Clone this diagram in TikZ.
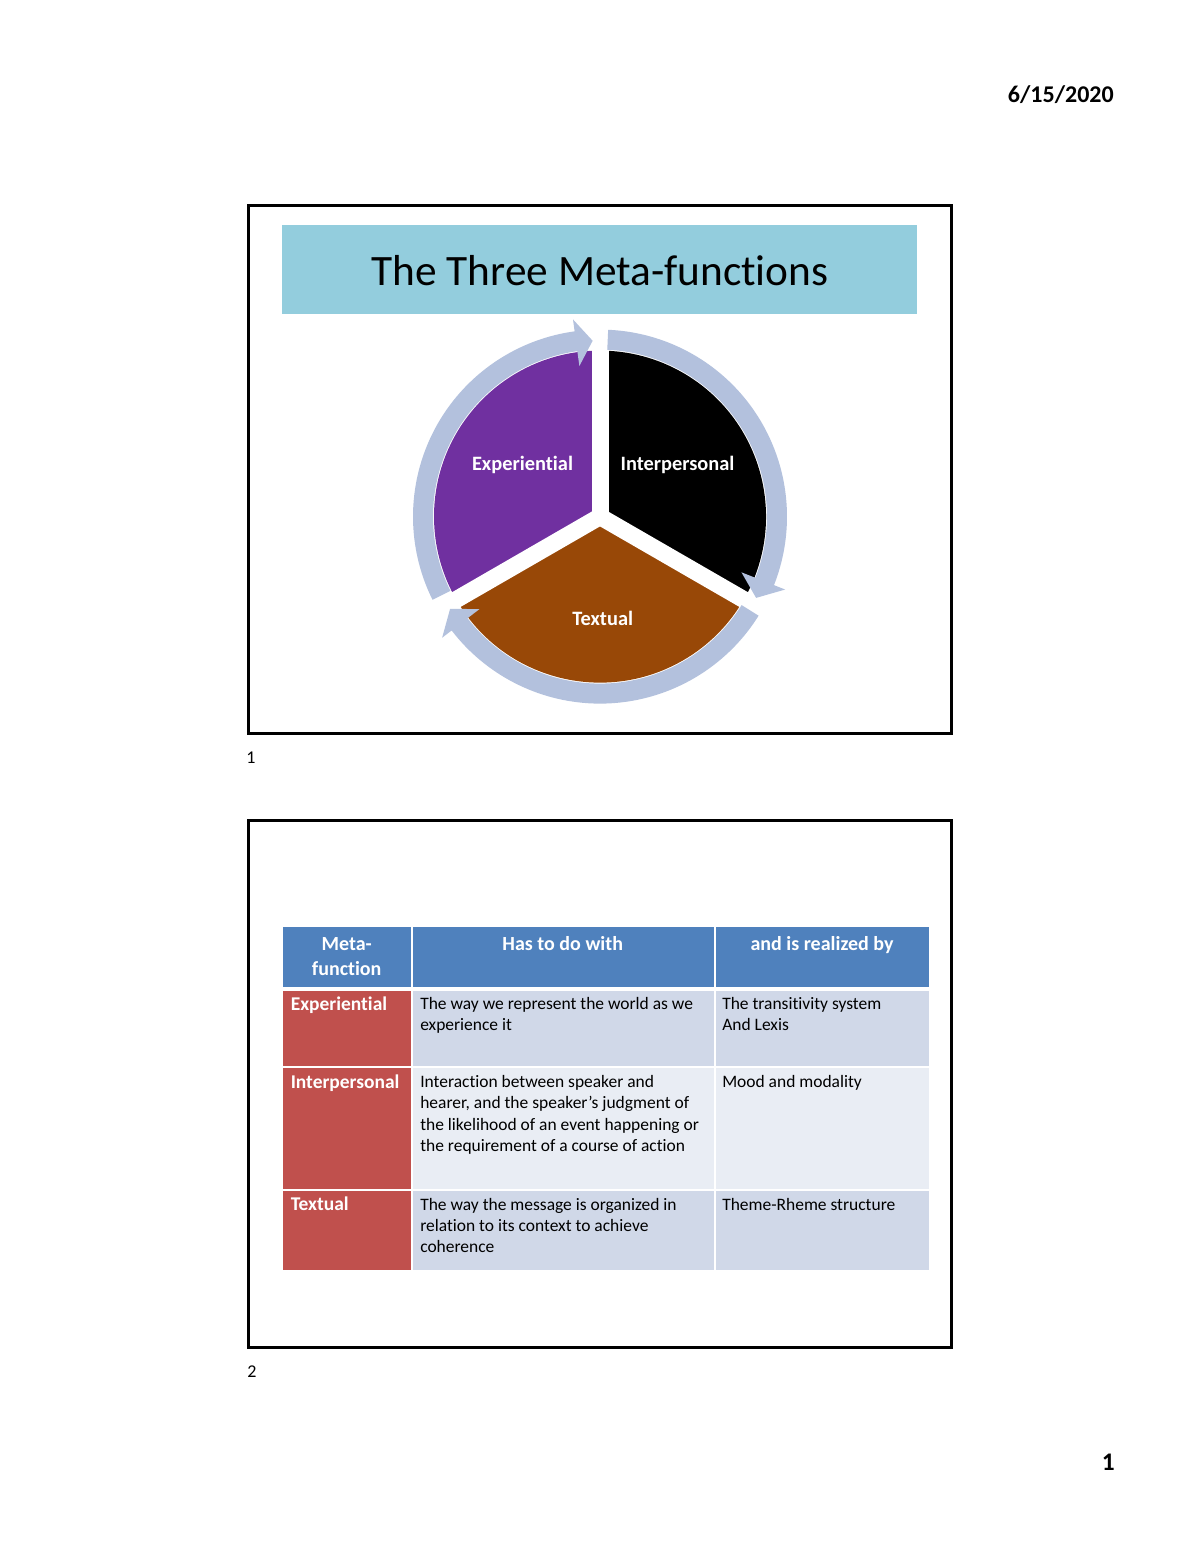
\documentclass[tikz,border=0pt]{standalone}
\usepackage{fontspec}
\setmainfont{Carlito}[Ligatures=NoCommon]
\definecolor{purpleC}{HTML}{7030A0}
\definecolor{brownC}{HTML}{984807}
\definecolor{ringC}{HTML}{B3C1DD}
\definecolor{titleC}{HTML}{93CDDD}
\definecolor{headC}{HTML}{4F81BD}
\definecolor{redC}{HTML}{C0504D}
\definecolor{cellA}{HTML}{D0D8E8}
\definecolor{cellB}{HTML}{E9EDF4}
\newcommand\fs[1]{\fontsize{#1pt}{#1pt}\selectfont}
\newcommand\ringarrow[3]{\fill[ringC] (#1:187) arc[start angle=#1,end angle=#2,radius=187] -- (#2:199) -- (#3:176) -- (#2:152) -- (#2:167) arc[start angle=#2,end angle=#1,radius=167] -- cycle;}
\begin{document}
\begin{tikzpicture}[x=0.75pt,y=-0.75pt,
  slidebox/.style={draw=black,line width=2.25pt},
  seglabel/.style={anchor=base,inner sep=0,text=white,font=\fs{15.3}\bfseries},
  headt/.style={anchor=base,inner sep=0,text=white,font=\fs{15}\bfseries},
  firstt/.style={anchor=base west,inner sep=0,text=white,font=\fs{14.6}\bfseries},
  cellt/.style={anchor=base west,inner sep=0,text=black,font=\fs{13.1}},
  plain/.style={inner sep=0,text=black}]
\useasboundingbox (0,0) rectangle (1200,1553);
\fill[white] (0,0) rectangle (1200,1553);
% page header/footer
\node[plain,anchor=base east,font=\fs{18}\bfseries] (date) at (1114,102) {6/15/2020};
\node[plain,anchor=base east,font=\fs{19}\bfseries] (pagenum) at (1115,1470) {1};
% slide 1
\draw[slidebox] (248.3,205.7) rectangle (951,733);
\node[plain,anchor=base west,font=\fs{13.5}] (num1) at (246,763) {1};
\fill[titleC] (282,225) rectangle (917,314);
\node[plain,anchor=base,font=\fs{32.5}] (title) at (600,285.5) {The Three Meta-functions};
\begin{scope}[shift={(600,516.6)},yscale=-1]
  \fill[purpleC] (0,0) -- (90:166) arc[start angle=90,end angle=210,radius=166] -- cycle;
  \fill[black] (0,0) -- (-30:166) arc[start angle=-30,end angle=90,radius=166] -- cycle;
  \fill[brownC] (0,0) -- (210:166) arc[start angle=210,end angle=330,radius=166] -- cycle;
  \draw[white,line width=12.75pt] (0,0) -- (90:172);
  \draw[white,line width=12.75pt] (0,0) -- (210:172);
  \draw[white,line width=12.75pt] (0,0) -- (330:172);
  \ringarrow{206.4}{97.8}{92.4}
  \ringarrow{87.5}{-21.5}{-27.5}
  \ringarrow{-32}{-142.5}{-148.4}
\end{scope}
\node[seglabel] (exp) at (522.5,470) {Experiential};
\node[seglabel] (inter) at (677.5,470) {Interpersonal};
\node[seglabel] (text) at (602.7,625) {Textual};
% slide 2
\draw[slidebox] (248.3,820) rectangle (951,1347);
\node[plain,anchor=base west,font=\fs{13.5}] (num2) at (247,1377) {2};
\fill[headC] (283,927) rectangle (411,987);
\fill[headC] (412.5,927) rectangle (714,987);
\fill[headC] (715.5,927) rectangle (929,987);
\fill[redC] (283,991) rectangle (411,1066);
\fill[cellA] (412.5,991) rectangle (714,1066);
\fill[cellA] (715.5,991) rectangle (929,1066);
\fill[redC] (283,1067.5) rectangle (411,1189);
\fill[cellB] (412.5,1067.5) rectangle (714,1189);
\fill[cellB] (715.5,1067.5) rectangle (929,1189);
\fill[redC] (283,1190.5) rectangle (411,1270);
\fill[cellA] (412.5,1190.5) rectangle (714,1270);
\fill[cellA] (715.5,1190.5) rectangle (929,1270);
\node[headt] (h1a) at (346.7,950) {Meta-};
\node[headt] (h1b) at (346.7,975) {function};
\node[headt] (h2) at (562.7,950) {Has to do with};
\node[headt] (h3) at (822,950) {and is realized by};
\node[firstt] (r1a) at (290.5,1010.5) {Experiential};
\node[firstt] (r2a) at (290.5,1088) {Interpersonal};
\node[firstt] (r3a) at (290.5,1210.5) {Textual};
\node[cellt] (r1b1) at (420,1009.3) {The way we represent the world as we};
\node[cellt] (r1b2) at (420,1030.6) {experience it};
\node[cellt] (r1c1) at (722,1009.3) {The transitivity system};
\node[cellt] (r1c2) at (722,1030.6) {And Lexis};
\node[cellt] (r2b1) at (420,1087.5) {Interaction between speaker and};
\node[cellt] (r2b2) at (420,1108.8) {hearer, and the speaker’s judgment of};
\node[cellt] (r2b3) at (420,1130.1) {the likelihood of an event happening or};
\node[cellt] (r2b4) at (420,1151.4) {the requirement of a course of action};
\node[cellt] (r2c1) at (722,1087.5) {Mood and modality};
\node[cellt] (r3b1) at (420,1210) {The way the message is organized in};
\node[cellt] (r3b2) at (420,1231.3) {relation to its context to achieve};
\node[cellt] (r3b3) at (420,1252.6) {coherence};
\node[cellt] (r3c1) at (722,1210) {Theme-Rheme structure};
\end{tikzpicture}
\end{document}
